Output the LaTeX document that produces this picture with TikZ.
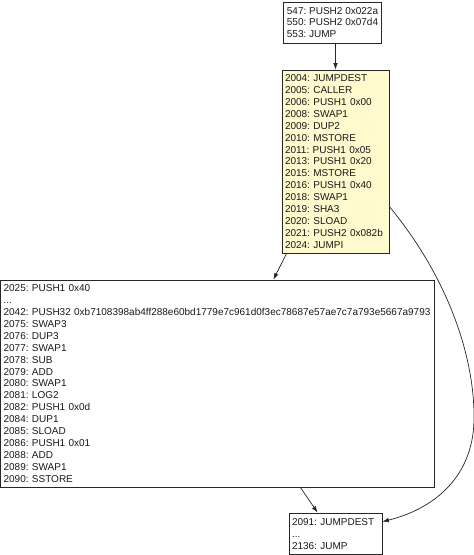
\documentclass[tikz,border=0pt]{standalone}
\usepackage{fontspec}
\setmainfont{Liberation Sans}
\frenchspacing
\usetikzlibrary{arrows.meta}
\begin{document}
\begin{tikzpicture}[x=1pt,y=-1pt,
  box/.style={draw=black!85, line width=0.8pt, rectangle, align=left, inner xsep=3pt, inner ysep=0pt,
    font=\fontsize{10}{11.9}\selectfont\frenchspacing, text=black!90},
  arr/.style={draw=black!85, line width=0.7pt, -{Latex[length=6.5pt,width=4.5pt]}}]
\useasboundingbox (0,0) rectangle (474,555);
\node[box, minimum width=98pt, minimum height=41pt] (b1) at (332.5,22.5)
  {547: PUSH2 0x022a\\550: PUSH2 0x07d4\\553: JUMP};
\node[box, fill={rgb,255:red,255;green,250;blue,205}, minimum width=107pt, text width=101pt, minimum height=183pt] (b2) at (335.5,161.5)
  {2004: JUMPDEST\\2005: CALLER\\2006: PUSH1 0x00\\2008: SWAP1\\2009: DUP2\\2010: MSTORE\\2011: PUSH1 0x05\\2013: PUSH1 0x20\\2015: MSTORE\\2016: PUSH1 0x40\\2018: SWAP1\\2019: SHA3\\2020: SLOAD\\2021: PUSH2 0x082b\\2024: JUMPI};
\node[box, minimum width=433.4pt, text width=427.4pt, minimum height=207pt] (b3) at (217.3,383.5)
  {2025: PUSH1 0x40\\...\\2042: PUSH32 0xb7108398ab4ff288e60bd1779e7c961d0f3ec78687e57ae7c7a793e5667a9793\\2075: SWAP3\\2076: DUP3\\2077: SWAP1\\2078: SUB\\2079: ADD\\2080: SWAP1\\2081: LOG2\\2082: PUSH1 0x0d\\2084: DUP1\\2085: SLOAD\\2086: PUSH1 0x01\\2088: ADD\\2089: SWAP1\\2090: SSTORE};
\node[box, minimum width=93pt, text width=87pt, minimum height=41.5pt] (b4) at (335.5,533.75)
  {2091: JUMPDEST\\...\\2136: JUMP};
\draw[arr] (b1.south -| b2.north) -- (b2.north);
\draw[arr] ([xshift=5pt]b2.south west) -- ([xshift=-161pt]b3.north east);
\draw[arr] ([xshift=-134pt]b3.south east) -- ([xshift=29pt]b4.north west);
\draw[arr] ([yshift=-137pt]b2.north east) .. controls (450,280) and (475,360) .. (474,420)
  .. controls (473,480) and (430,510) .. ([yshift=-9pt]b4.north east);
\end{tikzpicture}
\end{document}
